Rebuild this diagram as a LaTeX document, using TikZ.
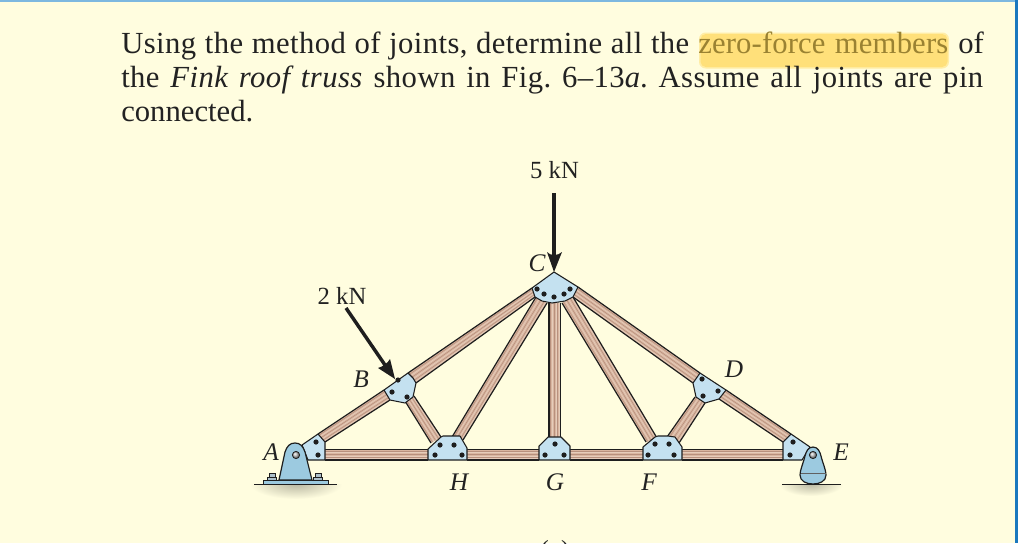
\documentclass[tikz,border=0pt]{standalone}
\usepackage{fontspec}
\setmainfont{Liberation Serif}
\frenchspacing
\usetikzlibrary{calc,arrows.meta}
\definecolor{paper}{HTML}{FFFDDF}
\definecolor{topline}{HTML}{7DB8E0}
\definecolor{sideline}{HTML}{1B78BE}
\definecolor{marker}{HTML}{FFE07A}
\definecolor{markerglow}{HTML}{FFEDA6}
\definecolor{markedtext}{HTML}{9A8232}
\definecolor{bodytext}{HTML}{222222}
\definecolor{wood}{HTML}{D9B6A0}
\definecolor{woodlight}{HTML}{E6CDBB}
\definecolor{wooddark}{HTML}{B8917E}
\definecolor{plate}{HTML}{C4E1F0}
\definecolor{support}{HTML}{9CCAE0}
\definecolor{ink}{HTML}{1E1E1E}
\tikzset{
  bodyline/.style={anchor=base west,inner sep=0pt,text=bodytext,font=\fontsize{23}{27}\selectfont},
  marktext/.style={bodyline,text=markedtext},
  gusset/.style={fill=plate,draw=ink,line width=0.8pt,line join=round},
  supportshape/.style={fill=support,draw=ink,line width=0.9pt,line join=round},
  baseplate/.style={fill=support,draw=ink,line width=0.6pt},
  boltpart/.style={fill=plate!65!gray,draw=ink,line width=0.5pt},
  edgeline/.style={draw=ink,line width=0.9pt},
  rivet/.style={fill=ink,draw=none},
  lbl/.style={inner sep=0pt,text=bodytext,font=\fontsize{18.5}{22}\selectfont},
  ilbl/.style={inner sep=0pt,text=bodytext,font=\fontsize{19}{22}\selectfont\itshape},
  groundline/.style={draw=ink,line width=0.9pt},
  forceline/.style={draw=ink,line width=2.6pt},
  forcehead/.style={fill=ink,draw=none},
}
% long sides p1-p2 and p4-p3
\newcommand{\woodmember}[4]{%
  \fill[wood] (#1)--(#2)--(#3)--(#4)--cycle;
  \foreach \t/\c in {0.15/wooddark,0.3/woodlight,0.45/wooddark,0.6/woodlight,0.75/wooddark,0.88/woodlight}{
    \draw[\c,line width=0.45pt] ($(#1)!\t!(#4)$)--($(#2)!\t!(#3)$);
  }
  \draw[edgeline] (#1)--(#2) (#4)--(#3);
}
\newcommand{\rivetdot}[2]{\fill[rivet] (#1,#2) circle[radius=2.6];}
\begin{document}
\begin{tikzpicture}[x=0.75pt,y=-0.75pt]
\useasboundingbox (0,0) rectangle (1024,543);
\fill[white] (0,0) rectangle (1024,543);
\fill[paper] (0,0) rectangle (1016,543);
\fill[topline] (0,0) rectangle (1018,1.6);
\fill[sideline] (1015,0) rectangle (1018,543);
% highlight
\fill[markerglow,rounded corners=5] (699,32.5) rectangle (949,68.5);
\fill[marker,rounded corners=4] (700.5,34) rectangle (947.5,67);
% text
\node[bodyline] (t1a) at (121,53) {\addfontfeatures{LetterSpace=1.4}\makebox[426pt][s]{Using the method of joints, determine all the}};
\node[marktext] (t1b) at (698,53) {\addfontfeatures{LetterSpace=0.5}\makebox[187.5pt][s]{zero-force members}};
\node[bodyline] (t1c) at (958,53) {of};
\node[bodyline] (t2) at (121,87) {\addfontfeatures{LetterSpace=1.4}\makebox[646.5pt][s]{the \textit{Fink roof truss} shown in Fig. 6–13\textit{a}. Assume all joints are pin}};
\node[bodyline] (t3) at (121,121) {connected.};
% named points
\coordinate (Aa) at (318,434); \coordinate (Ab) at (325,442);
\coordinate (Ba) at (384,390); \coordinate (Bb) at (390,400);
\coordinate (Bc) at (408,373); \coordinate (Bd) at (416,383);
\coordinate (Ca) at (532,288); \coordinate (Cb) at (535,297);
\coordinate (Cc) at (578,287); \coordinate (Cd) at (573,297);
\coordinate (Da) at (700,373); \coordinate (Db) at (693,383);
\coordinate (Dc) at (726,390); \coordinate (Dd) at (719,399);
\coordinate (Ea) at (791,434); \coordinate (Eb) at (783,442);
% shadows
\begin{scope}
  \clip (240,484) rectangle (350,500);
  \shade[inner color=black!27!paper,outer color=paper] (296,484) ellipse[x radius=46,y radius=15];
\end{scope}
\begin{scope}
  \clip (775,484) rectangle (850,497);
  \shade[inner color=black!27!paper,outer color=paper] (811,484) ellipse[x radius=32,y radius=12];
\end{scope}
% members
\woodmember{325,449.5}{428,449.5}{428,460}{325,460}
\woodmember{467,449.5}{539,449.5}{539,460}{467,460}
\woodmember{570,449.5}{643,449.5}{643,460}{570,460}
\woodmember{682,449.5}{783,449.5}{783,460}{682,460}
\woodmember{Aa}{Ba}{Bb}{Ab}
\woodmember{Bc}{Ca}{Cb}{Bd}
\woodmember{Cc}{Da}{Db}{Cd}
\woodmember{Dc}{Ea}{Eb}{Dd}
\woodmember{405,401}{431,443}{441,437}{414,396}
\woodmember{536,297}{452,437}{463,440}{547,303}
\woodmember{549,303}{549,437}{560.7,437}{560.7,303}
\woodmember{562,303}{646,442}{657,438}{573,297}
\woodmember{695,397}{667,437}{679,443}{705,403}
% gusset plates
\draw[gusset] (302,445)--(318,434)--(325,442)--(325,460)--(308,460)--cycle;
\draw[gusset] (384,390)--(408,373)--(413,378)--(416,383)--(413,397)--(405,403)--(390,400)--cycle;
\draw[gusset] (428,449)--(441,437)--(443,436)--(460,436)--(467,448)--(467,460)--(428,460)--cycle;
\draw[gusset] (554,272)--(578,287)--(573,297)--(565,301)--(552,303)--(542,301)--(535,297)--(532,288)--cycle;
\draw[gusset] (539,446)--(548,437)--(561,437)--(570,446)--(570,460)--(539,460)--cycle;
\draw[gusset] (643,447)--(655,437)--(658,436)--(668,436)--(675,437)--(682,447)--(682,460)--(643,460)--cycle;
\draw[gusset] (700,373)--(726,390)--(719,399)--(705,403)--(696,397)--(693,383)--cycle;
\draw[gusset] (791,434)--(810,447)--(802,460)--(783,460)--(783,442)--cycle;
% rivets
\rivetdot{316}{442}\rivetdot{318}{455}
\rivetdot{398}{380}\rivetdot{392}{392}\rivetdot{407}{397}
\rivetdot{440}{445}\rivetdot{454}{445}\rivetdot{435}{455}\rivetdot{462}{455}
\rivetdot{537}{289}\rivetdot{544}{294}\rivetdot{554}{297}\rivetdot{564}{294}\rivetdot{570}{289}
\rivetdot{555}{444}\rivetdot{545}{455}\rivetdot{564}{455}
\rivetdot{655}{444}\rivetdot{669}{444}\rivetdot{648}{455}\rivetdot{674}{455}
\rivetdot{702}{379}\rivetdot{718}{391}\rivetdot{703}{396}
\rivetdot{793}{442}\rivetdot{790}{455}
% support A
\foreach \bx in {272,318}{
  \draw[boltpart] (\bx-3,473) rectangle (\bx+3,477);
  \draw[boltpart] (\bx-4.5,477) rectangle (\bx+4.5,480);
}
\draw[baseplate] (263,480) rectangle (328,484);
\draw[supportshape] (279,480)--(285,452) .. controls (287,446) and (290,443) .. (295,443) .. controls (300,443) and (303,446) .. (305,452)--(312,480)--cycle;
\shade[ball color=gray!50] (296,455) circle[radius=3.6];
\draw[ink,line width=0.6pt] (296,455) circle[radius=3.6];
\draw[groundline] (254,484.5)--(337,484.5);
% support E
\draw[supportshape] (813,447) .. controls (818,447) and (820,452) .. (821,456) .. controls (823,464) and (826,470) .. (826,475) .. controls (826,481) and (820,484) .. (813,484) .. controls (806,484) and (800,481) .. (800,475) .. controls (800,470) and (803,464) .. (805,456) .. controls (806,452) and (808,447) .. (813,447)--cycle;
\draw[ink!70,line width=0.6pt] (800.5,473)--(825.5,473);
\shade[ball color=gray!50] (813,455) circle[radius=3.6];
\draw[ink,line width=0.6pt] (813,455) circle[radius=3.6];
\draw[groundline] (782,484.5)--(841,484.5);
% forces
\coordinate (tipC) at (554,272);
\coordinate (tailC) at (554,193);
\draw[forceline] (tailC)--(554,258);
\fill[forcehead] (tipC)--(547,252) .. controls (550,256) and (558,256) .. (562,252)--cycle;
\coordinate (tipB) at (395,379);
\coordinate (tailB) at (346,308);
\draw[forceline] (tailB)--(385,365);
\fill[forcehead] (tipB)--(378,368) .. controls (382,367) and (388,363) .. (390,359)--cycle;
% labels
\node[lbl] (five) at (554.5,170) {5 kN};
\node[lbl] (two) at (342,296) {2 kN};
\node[ilbl] (A) at (271,452) {A};
\node[ilbl] (B) at (361,379) {B};
\node[ilbl] (C) at (537,263) {C};
\node[ilbl] (D) at (734,369) {D};
\node[ilbl] (E) at (841,452) {E};
\node[ilbl] (H) at (459,482) {H};
\node[ilbl] (G) at (555,482) {G};
\node[ilbl] (F) at (649,482) {F};
\begin{scope}
  \clip (0,0) rectangle (1024,543);
  \node[lbl] (fig) at (555,552) {(\textit{a})};
\end{scope}
\end{tikzpicture}
\end{document}
